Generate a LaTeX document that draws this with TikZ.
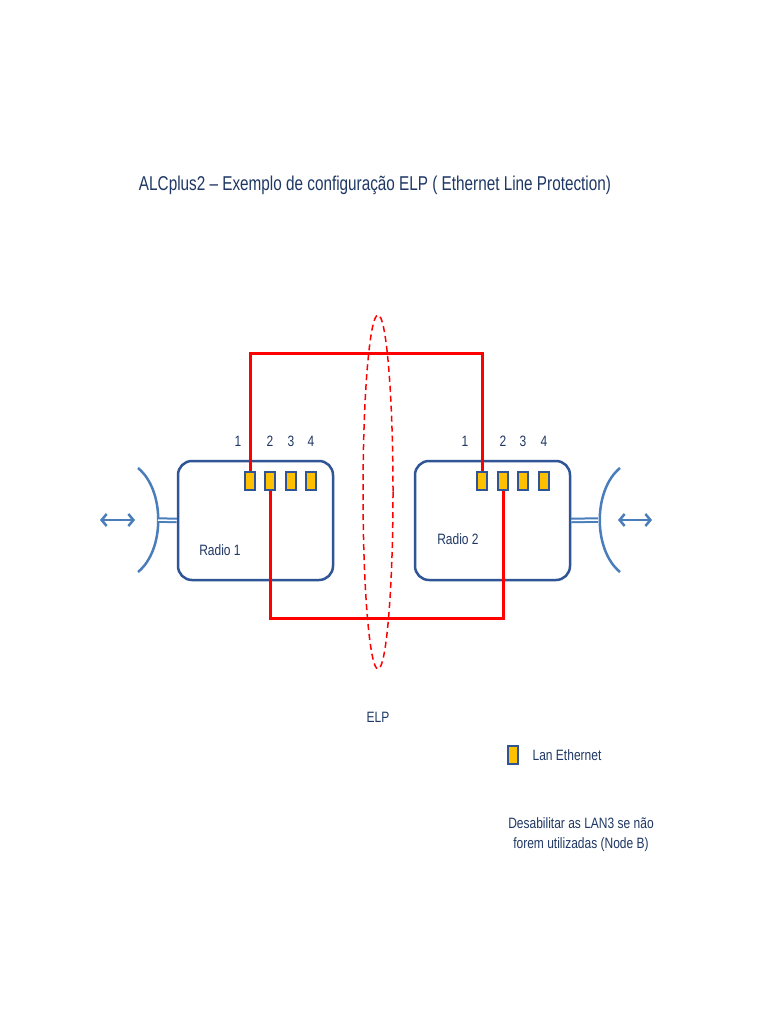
\documentclass[tikz,border=0pt]{standalone}
\usepackage{fontspec}
\setmainfont{Liberation Sans}
\usetikzlibrary{arrows.meta}
\definecolor{navy}{HTML}{1F3864}
\definecolor{boxb}{HTML}{2F5597}
\definecolor{ant}{HTML}{4A7EBB}
\definecolor{port}{HTML}{FFC000}
\begin{document}
\begin{tikzpicture}[x=1pt,y=-1pt,
  radio/.style={draw=boxb,line width=2.5pt,rounded corners=14pt,minimum width=155pt,minimum height=119pt},
  lan/.style={draw=boxb,fill=port,line width=1.5pt,minimum width=10pt,minimum height=18pt,inner sep=0pt},
  wire/.style={red,line width=3pt},
  lbl/.style={text=navy,font=\fontsize{15}{17}\selectfont,inner sep=0pt},
  antl/.style={ant,line width=2.5pt}]
\path[fill=white] (0,0) rectangle (768,1024);
\node[text=navy,font=\fontsize{20}{24}\selectfont] (title) at (375,185) {\scalebox{0.765}[1]{ALCplus2 – Exemplo de configuração ELP ( Ethernet Line Protection)}};
\node[radio] (r1) at (255.5,520.5) {};
\node[radio] (r2) at (492.5,520.5) {};
\foreach \x [count=\i] in {250,270,291,311} {
  \node[lan] (a\i) at (\x,481) {};}
\foreach \x [count=\i] in {482,503,523,544} {
  \node[lan] (b\i) at (\x,481) {};}
\foreach \x/\t in {238/1,270/2,291/3,311/4,465/1,503/2,523/3,544/4}
  \node[lbl] at (\x,441) {\scalebox{0.8}[1]{\t}};
\node[lbl] (rl1) at (220,550) {\scalebox{0.8}[1]{Radio 1}};
\node[lbl] (rl2) at (458,539) {\scalebox{0.8}[1]{Radio 2}};
\coordinate (c1) at (250,353); \coordinate (c2) at (482,353);
\coordinate (c3) at (270,618); \coordinate (c4) at (503,618);
\draw[wire] (a1.north) -- (c1) -- (c2) -- (b1.north);
\draw[wire] (a2.south) -- (c3) -- (c4) -- (b2.south);
\draw[red,line width=1.5pt,dash pattern=on 6pt off 4pt] (378,492) ellipse [x radius=15,y radius=177];
% antennas
\draw[antl] (138,468) .. controls (165,490) and (165,550) .. (138,572);
\draw[ant,line width=2pt,double=white,double distance=1.5pt] (158,520) -- (r1.west);
\draw[antl,{Straight Barb[length=5pt,width=12pt]}-{Straight Barb[length=5pt,width=12pt]}] (100,520) -- (135,520);
\draw[antl] (620,468) .. controls (593,490) and (593,550) .. (620,572);
\draw[ant,line width=2pt,double=white,double distance=1.5pt] (r2.east) -- (598,520);
\draw[antl,{Straight Barb[length=5pt,width=12pt]}-{Straight Barb[length=5pt,width=12pt]}] (618,520) -- (652,520);
\node[lbl] (elp) at (378,717) {\scalebox{0.8}[1]{ELP}};
\node[lan] (leg) at (513,755) {};
\node[lbl] (legt) at (567,755) {\scalebox{0.8}[1]{Lan Ethernet}};
\node[lbl,align=center] (note) at (581,835) {\scalebox{0.8}[1]{Desabilitar as LAN3 se não}\\[3pt]\scalebox{0.8}[1]{forem utilizadas (Node B)}};
\end{tikzpicture}
\end{document}
